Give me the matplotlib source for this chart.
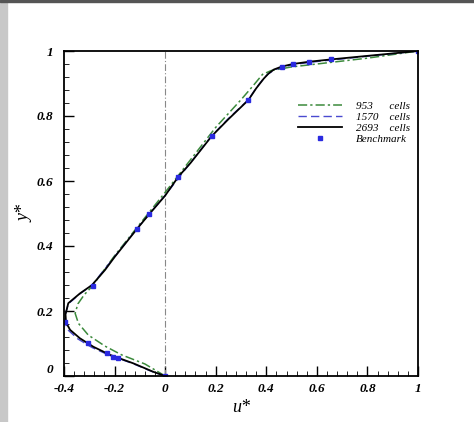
import numpy as np
import matplotlib
matplotlib.use('Agg')
import matplotlib.pyplot as plt
from matplotlib.ticker import MultipleLocator, FixedFormatter, FixedLocator
from matplotlib.patches import Rectangle

# profils de vitesse u* en fonction de y*
u_2693 = [0.0, -0.047, -0.126, -0.218, -0.284, -0.337, -0.376, -0.392, -0.394, -0.383, -0.337,
          -0.289, -0.238, -0.2, -0.113, -0.064, 0.0, 0.052, 0.1, 0.184, 0.25, 0.329, 0.36, 0.39,
          0.408, 0.43, 0.461, 0.505, 0.569, 0.655, 0.8, 1.0]
y_2693 = [0.0, 0.013, 0.039, 0.065, 0.090, 0.116, 0.142, 0.165, 0.19, 0.224, 0.254,
          0.28, 0.326, 0.366, 0.451, 0.497, 0.555, 0.613, 0.655, 0.738, 0.79, 0.849, 0.885, 0.915,
          0.93, 0.943, 0.952, 0.96, 0.967, 0.974, 0.985, 1.0]

u_1570 = [0.0, -0.05, -0.13, -0.222, -0.29, -0.345, -0.382, -0.396, -0.395, -0.383, -0.337,
          -0.289, -0.2, -0.113, 0.0, 0.1, 0.184, 0.25, 0.329, 0.36, 0.39,
          0.41, 0.435, 0.5, 0.57, 0.655, 0.8, 1.0]
y_1570 = [0.0, 0.013, 0.039, 0.064, 0.088, 0.114, 0.14, 0.163, 0.188, 0.222, 0.253,
          0.28, 0.367, 0.452, 0.556, 0.656, 0.739, 0.792, 0.85, 0.886, 0.916,
          0.931, 0.943, 0.957, 0.965, 0.972, 0.984, 1.0]

u_953 = [0.0, -0.08, -0.172, -0.238, -0.304, -0.343, -0.356, -0.345, -0.32, -0.29,
         -0.2, -0.1, 0.0, 0.1, 0.2, 0.3, 0.35, 0.385, 0.42, 0.5, 0.6, 0.8, 1.0]
y_953 = [0.0, 0.037, 0.065, 0.092, 0.126, 0.162, 0.193, 0.222, 0.25, 0.275,
         0.37, 0.468, 0.565, 0.665, 0.765, 0.85, 0.895, 0.928, 0.94, 0.951, 0.96, 0.978, 1.0]

# points de référence (Benchmark)
u_bench = [0.0, -0.185, -0.207, -0.231, -0.304, -0.396, -0.287, -0.113, -0.064, 0.052,
           0.184, 0.329, 0.461, 0.505, 0.569, 0.655, 1.0]
y_bench = [0.0, 0.054, 0.059, 0.070, 0.102, 0.165, 0.277, 0.451, 0.497, 0.613,
           0.738, 0.849, 0.952, 0.960, 0.967, 0.974, 1.0]

xticks = [-0.4, -0.2, 0, 0.2, 0.4, 0.6, 0.8, 1]
xlabels = ['-0.4', '-0.2', '0', '0.2', '0.4', '0.6', '0.8', '1']
yticks = [0, 0.2, 0.4, 0.6, 0.8, 1]
ylabels = ['0', '0.2', '0.4', '0.6', '0.8', '1']

serif = ['Liberation Serif', 'DejaVu Serif']

fig = plt.figure(figsize=(4.74, 4.22), dpi=100)
ax = fig.add_axes([64/474, 1 - 376/422, 354/474, 325/422])

# bordures de l'image d'origine
fig.patches.append(Rectangle((0, 0), 7/474, 1, transform=fig.transFigure,
                             color='#c8c8c8', zorder=0))
fig.patches.append(Rectangle((0, 1 - 2/422), 1, 2/422, transform=fig.transFigure,
                             color='#555555', zorder=0))

ax.axvline(0, color='#888888', lw=0.8, ls=(0, (6, 2, 1, 2)))

ax.plot(u_953, y_953, color='#3c8a3c', lw=1.1, ls=(0, (6, 2, 1.5, 2)), label='953      cells')
ax.plot(u_1570, y_1570, color='#4a4ad0', lw=1.0, ls=(0, (6, 3)), label='1570    cells')
ax.plot(u_2693, y_2693, color='black', lw=1.3, label='2693    cells')
ax.plot(u_bench, y_bench, ls='none', marker='s', ms=3.5, color='#2a2ae0', label='Benchmark')

ax.set_xlim(-0.4, 1)
ax.set_ylim(0, 1)

ax.xaxis.set_major_locator(FixedLocator(xticks))
ax.xaxis.set_major_formatter(FixedFormatter(xlabels))
ax.yaxis.set_major_locator(FixedLocator(yticks))
ax.yaxis.set_major_formatter(FixedFormatter(ylabels))
ax.xaxis.set_minor_locator(MultipleLocator(0.04))
ax.yaxis.set_minor_locator(MultipleLocator(0.04))
ax.tick_params(which='both', direction='in', top=False, right=False)
ax.tick_params(which='major', length=7, width=1)
ax.tick_params(axis='x', which='major', pad=5)
ax.tick_params(axis='y', which='major', pad=8)
ax.tick_params(which='minor', length=3.5, width=0.6)
for lab in ax.get_xticklabels() + ax.get_yticklabels():
    lab.set_family(serif)
    lab.set_style('italic')
    lab.set_weight('bold')
    lab.set_fontsize(9.5)
ax.get_yticklabels()[0].set_verticalalignment('bottom')
for s in ax.spines.values():
    s.set_linewidth(1.3)

ax.set_xlabel('u*', family=serif, style='italic', fontsize=13, labelpad=3)
ax.set_ylabel('y*', family=serif, style='italic', fontsize=13, labelpad=2)

leg = ax.legend(loc='upper left', bbox_to_anchor=(0.661, 0.845), frameon=False,
                borderaxespad=0, borderpad=0,
                handlelength=4, handletextpad=1.2, labelspacing=0.1,
                prop={'family': serif, 'style': 'italic', 'size': 8})

fig.savefig('out.png', dpi=100)
